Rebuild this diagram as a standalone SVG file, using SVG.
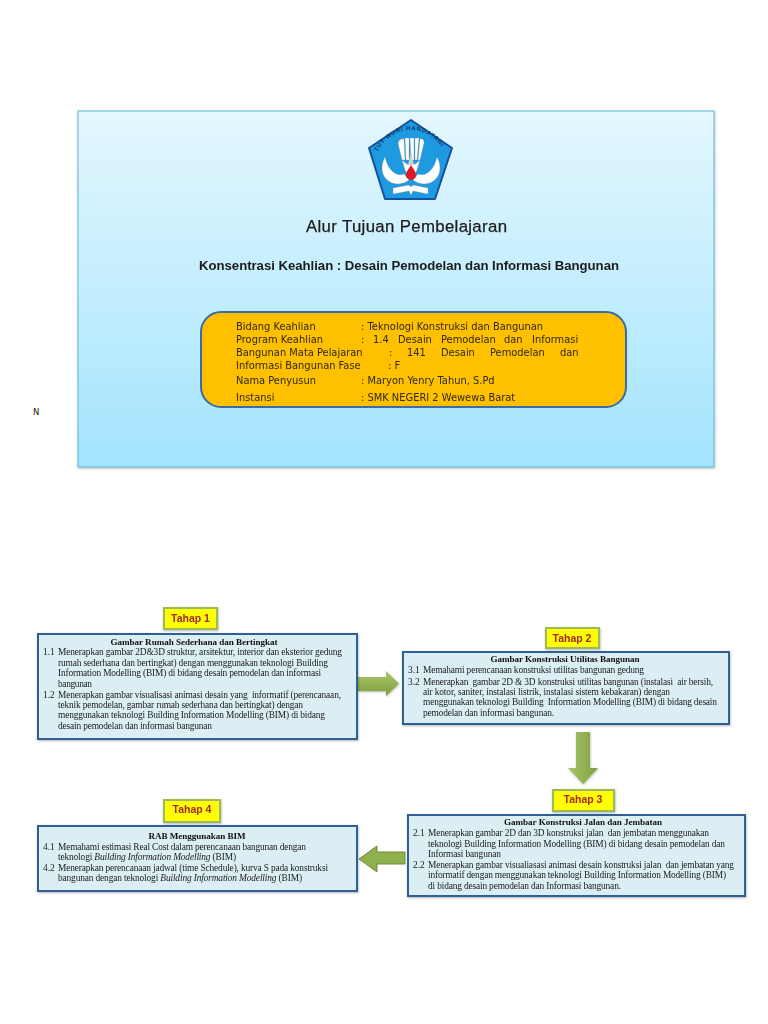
<svg xmlns="http://www.w3.org/2000/svg" xmlns:xlink="http://www.w3.org/1999/xlink" width="768" height="1024" viewBox="0 0 768 1024">
<style>
text{font-family:"Liberation Serif","Times New Roman",serif;fill:#222}
.b{font-size:9.4px;filter:url(#soft)}
.t{font-size:9.1px;font-weight:bold;text-anchor:middle;fill:#111;filter:url(#soft)}
.box{fill:#dbeef4;stroke:#2f5f95;stroke-width:2;filter:url(#sh)}
.tag{fill:#ffff00;stroke:#9bbb59;stroke-width:2;filter:url(#sh)}
.tagt{font-family:"Liberation Sans",Arial,sans-serif;font-size:10.5px;font-weight:bold;text-anchor:middle;fill:#a52a2a;filter:url(#soft)}
.o{font-family:"DejaVu Sans",sans-serif;font-size:9.9px;fill:#2e2a10;filter:url(#soft)}
.h{font-family:"Liberation Sans",Arial,sans-serif;fill:#1c1c1c;text-anchor:middle;filter:url(#soft)}
.w{fill:#fff;stroke:#8a8a8a;stroke-width:.3}
</style>
<defs>
<linearGradient id="bg" x1="0" y1="0" x2="0" y2="1"><stop offset="0" stop-color="#e4f7fe"/><stop offset="1" stop-color="#a3e4fe"/></linearGradient>
<linearGradient id="gh" x1="0" y1="0" x2="0" y2="1"><stop offset="0" stop-color="#a9c76a"/><stop offset="1" stop-color="#7f9e3e"/></linearGradient>
<linearGradient id="gv" x1="0" y1="0" x2="1" y2="0"><stop offset="0" stop-color="#a9c76a"/><stop offset="1" stop-color="#7f9e3e"/></linearGradient>
<filter id="soft" x="-5%" y="-30%" width="110%" height="160%"><feGaussianBlur stdDeviation=".25"/></filter>
<filter id="sh" x="-5%" y="-10%" width="110%" height="125%"><feDropShadow dx="0.5" dy="1" stdDeviation="0.8" flood-color="#000" flood-opacity=".3"/></filter>
<path id="arc" d="M377 153C384 138 398 130 411 130C424 130 438 138 445 153"/>
</defs>
<rect width="768" height="1024" fill="#fff"/>

<g id="cover">
<rect x="78" y="111" width="636" height="356" fill="url(#bg)" stroke="#5fb9d6" filter="url(#sh)"/>
</g>
<g id="logo">
<path d="M411 120L452 148L435 199L385 199L369 148Z" fill="#1d9ae0" stroke="#17509a" stroke-width="2" stroke-linejoin="round"/>
<text font-size="6" font-weight="bold" style="font-family:'Liberation Sans',sans-serif;fill:#103a70"><textPath xlink:href="#arc" startOffset="1" textLength="78">TUT WURI HANDAYANI</textPath></text>
<path class="w" d="M398 143Q400 138 404 139L405 160L402 160ZM405 138H409V160H406ZM410 138H414V160H411ZM415 138H419L417 160H415ZM420 139Q424 138 424 143L420 160H418Z"/>
<path class="w" d="M402 160Q411 170 420 160L417 170L415 174H407L405 170Z"/>
<path class="w" d="M385 157C380 166 381 177 390 182C398 186 405 183 409 180L404 174C396 177 388 170 385 157Z"/>
<path class="w" d="M437 157C442 166 441 177 432 182C424 186 417 183 413 180L418 174C426 177 434 170 437 157Z"/>
<path d="M411 165C414 170 416 172 416 175A5 5 0 0 1 406 175C406 172 408 170 411 165Z" fill="#dc1c24"/>
<path d="M411 152L414 165H408Z" fill="#cfcfcf"/>
<path class="w" d="M393 188L409 185L411 187L413 185L428 188V194L413 191L411 195L409 191L393 194Z"/>
</g>
<text class="h" x="406.500" y="232" font-size="16.800" stroke="#1c1c1c" stroke-width=".25" textLength="201">Alur Tujuan Pembelajaran</text>
<text class="h" x="409" y="270" font-size="13.200" font-weight="bold" textLength="420">Konsentrasi Keahlian : Desain Pemodelan dan Informasi Bangunan</text>

<g id="info">
<rect x="201" y="312" width="425" height="95" rx="20" fill="#ffc000" stroke="#3c6ba5" stroke-width="2"/>
<text class="o" x="236" y="330">Bidang Keahlian</text><text class="o" x="361" y="330">: Teknologi Konstruksi dan Bangunan</text>
<text class="o" x="236" y="343">Program Keahlian</text><text class="o" x="361" y="343">:</text><text class="o" x="373" y="343">1.4</text><text class="o" x="398" y="343">Desain</text><text class="o" x="441" y="343">Pemodelan</text><text class="o" x="504" y="343">dan</text><text class="o" x="532" y="343">Informasi</text>
<text class="o" x="236" y="356">Bangunan Mata Pelajaran</text><text class="o" x="389" y="356">:</text><text class="o" x="407" y="356">141</text><text class="o" x="441" y="356">Desain</text><text class="o" x="490" y="356">Pemodelan</text><text class="o" x="560" y="356">dan</text>
<text class="o" x="236" y="369">Informasi Bangunan Fase</text><text class="o" x="388" y="369">: F</text>
<text class="o" x="236" y="384">Nama Penyusun</text><text class="o" x="361" y="384">: Maryon Yenry Tahun, S.Pd</text>
<text class="o" x="236" y="401">Instansi</text><text class="o" x="361" y="401">: SMK NEGERI 2 Wewewa Barat</text>
</g>
<text x="33" y="415" font-size="8.500" style="font-family:'DejaVu Sans',sans-serif">N</text>

<g id="connectors">
<path d="M358 677H386V671L399 683.500L386 696V691H358Z" fill="url(#gh)" filter="url(#sh)"/>
<path d="M576 732H590V768H598L583 784L568 768H576Z" fill="url(#gv)" filter="url(#sh)"/>
<path d="M405 852V864H377V872L359 859L377 846V852Z" fill="#8fb04c" stroke="#6f8a3a" stroke-width="1"/>
</g>

<g id="tahap1"><rect class="tag" x="164" y="608" width="53" height="21"/><text class="tagt" x="190.500" y="622">Tahap 1</text></g>
<g id="tahap2"><rect class="tag" x="546" y="628" width="53" height="20"/><text class="tagt" x="572" y="642">Tahap 2</text></g>
<g id="tahap3"><rect class="tag" x="553" y="790" width="61" height="21"/><text class="tagt" x="583" y="803">Tahap 3</text></g>
<g id="tahap4"><rect class="tag" x="164" y="800" width="56" height="22"/><text class="tagt" x="192" y="813">Tahap 4</text></g>

<g id="box1">
<rect class="box" x="38" y="634" width="319" height="105"/>
<text class="t" x="194" y="645" textLength="167">Gambar Rumah Sederhana dan Bertingkat</text>
<text class="b" x="43" y="655">1.1</text><text class="b" x="58" y="655" textLength="284">Menerapkan gambar 2D&amp;3D struktur, arsitektur, interior dan eksterior gedung</text>
<text class="b" x="58" y="666" textLength="270">rumah sederhana dan bertingkat) dengan menggunakan teknologi Building</text>
<text class="b" x="58" y="676" textLength="263">Information Modelling (BIM) di bidang desain pemodelan dan informasi</text>
<text class="b" x="58" y="687" textLength="34">bangunan</text>
<text class="b" x="43" y="698">1.2</text><text class="b" x="58" y="698" textLength="283" xml:space="preserve">Menerapkan gambar visualisasi animasi desain yang  informatif (perencanaan,</text>
<text class="b" x="58" y="708" textLength="245">teknik pemodelan, gambar rumah sederhana dan bertingkat) dengan</text>
<text class="b" x="58" y="718" textLength="267">menggunakan teknologi Building Information Modelling (BIM) di bidang</text>
<text class="b" x="58" y="729" textLength="154">desain pemodelan dan informasi bangunan</text>
</g>

<g id="box2">
<rect class="box" x="403" y="652" width="326" height="72"/>
<text class="t" x="565" y="662" textLength="149">Gambar Konstruksi Utilitas Bangunan</text>
<text class="b" x="408" y="673">3.1</text><text class="b" x="423" y="673" textLength="221">Memahami perencanaan konstruksi utilitas bangunan gedung</text>
<text class="b" x="408" y="685">3.2</text><text class="b" x="423" y="685" textLength="290" xml:space="preserve">Menerapkan  gambar 2D &amp; 3D konstruksi utilitas bangunan (instalasi  air bersih,</text>
<text class="b" x="423" y="695" textLength="247">air kotor, saniter, instalasi listrik, instalasi sistem kebakaran) dengan</text>
<text class="b" x="423" y="705" textLength="294" xml:space="preserve">menggunakan teknologi Building  Information Modelling (BIM) di bidang desain</text>
<text class="b" x="423" y="716" textLength="131">pemodelan dan informasi bangunan.</text>
</g>

<g id="box3">
<rect class="box" x="408" y="815" width="337" height="81"/>
<text class="t" x="583" y="825" textLength="158">Gambar Konstruksi Jalan dan Jembatan</text>
<text class="b" x="413" y="836">2.1</text><text class="b" x="428" y="836" textLength="281" xml:space="preserve">Menerapkan gambar 2D dan 3D konstruksi jalan  dan jembatan menggunakan</text>
<text class="b" x="428" y="847" textLength="297">teknologi Building Information Modelling (BIM) di bidang desain pemodelan dan</text>
<text class="b" x="428" y="857" textLength="73">Informasi bangunan</text>
<text class="b" x="413" y="868">2.2</text><text class="b" x="428" y="868" textLength="306" xml:space="preserve">Menerapkan gambar visualiasasi animasi desain konstruksi jalan  dan jembatan yang</text>
<text class="b" x="428" y="878" textLength="298">informatif dengan menggunakan teknologi Building Information Modelling (BIM)</text>
<text class="b" x="428" y="889" textLength="193">di bidang desain pemodelan dan Informasi bangunan.</text>
</g>

<g id="box4">
<rect class="box" x="38" y="826" width="319" height="65"/>
<text class="t" x="197" y="839" textLength="97">RAB Menggunakan BIM</text>
<text class="b" x="43" y="850">4.1</text><text class="b" x="58" y="850" textLength="248">Memahami estimasi Real Cost dalam perencanaan bangunan dengan</text>
<text class="b" x="58" y="860" textLength="178">teknologi <tspan font-style="italic">Building Information Modelling</tspan> (BIM)</text>
<text class="b" x="43" y="871">4.2</text><text class="b" x="58" y="871" textLength="270">Menerapkan perencanaan jadwal (time Schedule), kurva S pada konstruksi</text>
<text class="b" x="58" y="881" textLength="244">bangunan dengan teknologi <tspan font-style="italic">Building Information Modelling</tspan> (BIM)</text>
</g>
</svg>
